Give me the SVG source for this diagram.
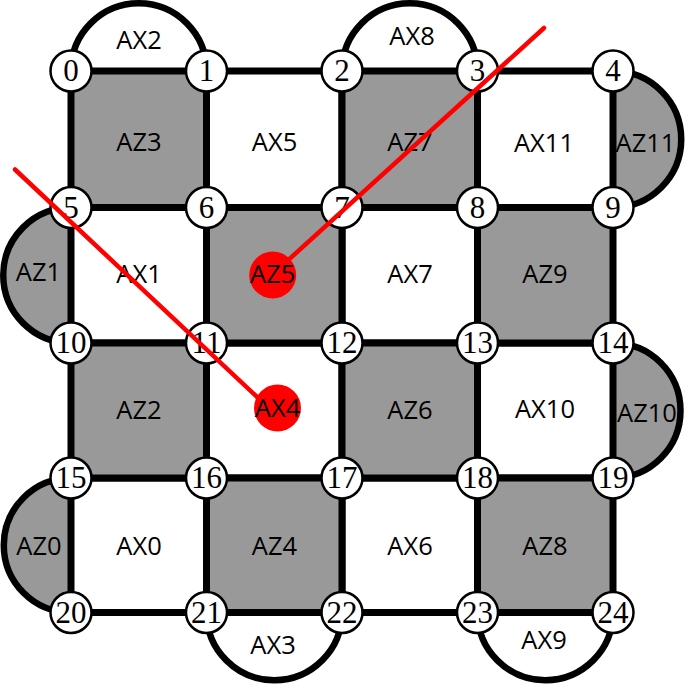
<svg xmlns="http://www.w3.org/2000/svg" width="685" height="685" viewBox="0 0 685 685">
<style>
.w{fill:#ffffff;stroke:#000;stroke-width:7}
.g{fill:#999999;stroke:#000;stroke-width:7}
.aw{fill:#ffffff;stroke:#000;stroke-width:6.5}
.ag{fill:#999999;stroke:#000;stroke-width:6.5}
.lb{font-family:"Open Sans","Liberation Sans",sans-serif;font-size:25.5px;fill:#000;text-anchor:middle}
.nc{fill:#fff;stroke:#000;stroke-width:2.5}
.nt{font-family:"Liberation Serif","DejaVu Serif",serif;font-size:31px;fill:#000;text-anchor:middle}
.rl{stroke:#ff0000;stroke-width:4.5;stroke-linecap:round;fill:none}
.rc{fill:#ff0000}
</style>
<rect width="685" height="685" fill="#ffffff"/>
<g id="boundary">
<path id="AX2" class="aw" d="M71 71 A67.75 67.75 0 0 1 206.5 71"/>
<path id="AX8" class="aw" d="M342 71 A67.75 67.75 0 0 1 477.5 71"/>
<path id="AZ11" class="ag" d="M613 71 A68.25 68.25 0 0 1 613 207.5"/>
<path id="AZ10" class="ag" d="M613 343 A67.5 67.5 0 0 1 613 478"/>
<path id="AZ1" class="ag" d="M71 343 A67.75 67.75 0 0 1 71 207.5"/>
<path id="AZ0" class="ag" d="M71 612.5 A67.25 67.25 0 0 1 71 478"/>
<path id="AX3" class="aw" d="M342 612.5 A67.75 67.75 0 0 1 206.5 612.5"/>
<path id="AX9" class="aw" d="M613 612.5 A67.75 67.75 0 0 1 477.5 612.5"/>
</g>
<g id="plaquettes">
<rect id="AX5" class="w" x="206.5" y="71" width="135.5" height="136.5"/>
<rect id="AX11" class="w" x="477.5" y="71" width="135.5" height="136.5"/>
<rect id="AX1" class="w" x="71" y="207.5" width="135.5" height="135.5"/>
<rect id="AX7" class="w" x="342" y="207.5" width="135.5" height="135.5"/>
<rect id="AX4" class="w" x="206.5" y="343" width="135.5" height="135"/>
<rect id="AX10" class="w" x="477.5" y="343" width="135.5" height="135"/>
<rect id="AX0" class="w" x="71" y="478" width="135.5" height="134.5"/>
<rect id="AX6" class="w" x="342" y="478" width="135.5" height="134.5"/>
<rect id="AZ3" class="g" x="71" y="71" width="135.5" height="136.5"/>
<rect id="AZ7" class="g" x="342" y="71" width="135.5" height="136.5"/>
<rect id="AZ5" class="g" x="206.5" y="207.5" width="135.5" height="135.5"/>
<rect id="AZ9" class="g" x="477.5" y="207.5" width="135.5" height="135.5"/>
<rect id="AZ2" class="g" x="71" y="343" width="135.5" height="135"/>
<rect id="AZ6" class="g" x="342" y="343" width="135.5" height="135"/>
<rect id="AZ4" class="g" x="206.5" y="478" width="135.5" height="134.5"/>
<rect id="AZ8" class="g" x="477.5" y="478" width="135.5" height="134.5"/>
</g>
<g id="labels">
<text class="lb" x="139" y="48.5">AX2</text>
<text class="lb" x="412" y="45">AX8</text>
<text class="lb" x="645.5" y="151.5">AZ11</text>
<text class="lb" x="647" y="421.5">AZ10</text>
<text class="lb" x="38.5" y="281">AZ1</text>
<text class="lb" x="39" y="554.5">AZ0</text>
<text class="lb" x="273" y="653.5">AX3</text>
<text class="lb" x="544" y="649">AX9</text>
<text class="lb" x="139" y="151">AZ3</text>
<text class="lb" x="274.5" y="151">AX5</text>
<text class="lb" x="410" y="151">AZ7</text>
<text class="lb" x="544" y="151.5">AX11</text>
<text class="lb" x="139" y="283">AX1</text>
<text class="lb" x="410" y="283">AX7</text>
<text class="lb" x="545" y="283">AZ9</text>
<text class="lb" x="139" y="418.5">AZ2</text>
<text class="lb" x="410" y="418.5">AZ6</text>
<text class="lb" x="545" y="418">AX10</text>
<text class="lb" x="139" y="555">AX0</text>
<text class="lb" x="274.5" y="555">AZ4</text>
<text class="lb" x="410" y="555">AX6</text>
<text class="lb" x="545" y="555">AZ8</text>
</g>
<g id="nodes">
<g id="n0"><circle class="nc" cx="71" cy="71" r="20.5"/><text class="nt" x="71" y="81">0</text></g>
<g id="n1"><circle class="nc" cx="206.5" cy="71" r="20.5"/><text class="nt" x="206.5" y="81">1</text></g>
<g id="n2"><circle class="nc" cx="342" cy="71" r="20.5"/><text class="nt" x="342" y="81">2</text></g>
<g id="n3"><circle class="nc" cx="477.5" cy="71" r="20.5"/><text class="nt" x="477.5" y="81">3</text></g>
<g id="n4"><circle class="nc" cx="613" cy="71" r="20.5"/><text class="nt" x="613" y="81">4</text></g>
<g id="n5"><circle class="nc" cx="71" cy="207.5" r="20.5"/><text class="nt" x="71" y="217.5">5</text></g>
<g id="n6"><circle class="nc" cx="206.5" cy="207.5" r="20.5"/><text class="nt" x="206.5" y="217.5">6</text></g>
<g id="n7"><circle class="nc" cx="342" cy="207.5" r="20.5"/><text class="nt" x="342" y="217.5">7</text></g>
<g id="n8"><circle class="nc" cx="477.5" cy="207.5" r="20.5"/><text class="nt" x="477.5" y="217.5">8</text></g>
<g id="n9"><circle class="nc" cx="613" cy="207.5" r="20.5"/><text class="nt" x="613" y="217.5">9</text></g>
<g id="n10"><circle class="nc" cx="71" cy="343" r="20.5"/><text class="nt" x="71" y="353">10</text></g>
<g id="n11"><circle class="nc" cx="206.5" cy="343" r="20.5"/><text class="nt" x="206.5" y="353">11</text></g>
<g id="n12"><circle class="nc" cx="342" cy="343" r="20.5"/><text class="nt" x="342" y="353">12</text></g>
<g id="n13"><circle class="nc" cx="477.5" cy="343" r="20.5"/><text class="nt" x="477.5" y="353">13</text></g>
<g id="n14"><circle class="nc" cx="613" cy="343" r="20.5"/><text class="nt" x="613" y="353">14</text></g>
<g id="n15"><circle class="nc" cx="71" cy="478" r="20.5"/><text class="nt" x="71" y="488">15</text></g>
<g id="n16"><circle class="nc" cx="206.5" cy="478" r="20.5"/><text class="nt" x="206.5" y="488">16</text></g>
<g id="n17"><circle class="nc" cx="342" cy="478" r="20.5"/><text class="nt" x="342" y="488">17</text></g>
<g id="n18"><circle class="nc" cx="477.5" cy="478" r="20.5"/><text class="nt" x="477.5" y="488">18</text></g>
<g id="n19"><circle class="nc" cx="613" cy="478" r="20.5"/><text class="nt" x="613" y="488">19</text></g>
<g id="n20"><circle class="nc" cx="71" cy="612.5" r="20.5"/><text class="nt" x="71" y="622.5">20</text></g>
<g id="n21"><circle class="nc" cx="206.5" cy="612.5" r="20.5"/><text class="nt" x="206.5" y="622.5">21</text></g>
<g id="n22"><circle class="nc" cx="342" cy="612.5" r="20.5"/><text class="nt" x="342" y="622.5">22</text></g>
<g id="n23"><circle class="nc" cx="477.5" cy="612.5" r="20.5"/><text class="nt" x="477.5" y="622.5">23</text></g>
<g id="n24"><circle class="nc" cx="613" cy="612.5" r="20.5"/><text class="nt" x="613" y="622.5">24</text></g>
</g>
<g id="connectors">
<line class="rl" x1="15" y1="169.5" x2="272" y2="411"/>
<line class="rl" x1="544" y1="28" x2="274" y2="273"/>
</g>
<g id="marked">
<g id="mAZ5"><circle class="rc" cx="272.7" cy="275" r="23.5"/><text class="lb" x="272.7" y="283">AZ5</text></g>
<g id="mAX4"><circle class="rc" cx="277.5" cy="408" r="23.5"/><text class="lb" x="277.5" y="416.5">AX4</text></g>
</g>
</svg>
